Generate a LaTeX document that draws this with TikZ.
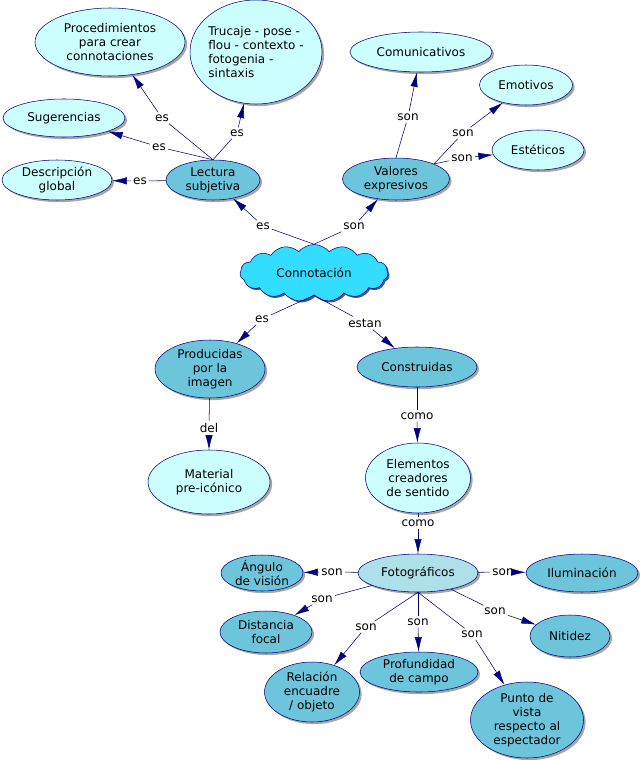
\documentclass[tikz,border=0pt]{standalone}
\usepackage{fontspec}
\setmainfont{DejaVu Sans}
\usepackage{tikz}
\usetikzlibrary{shapes.geometric, shapes.symbols, shadows, arrows.meta}
\definecolor{cmlight}{HTML}{CCFFFF}
\definecolor{cmdark}{HTML}{6DC5DB}
\definecolor{cmmid}{HTML}{AEE0EA}
\definecolor{cmcloud}{HTML}{33DDFF}
\definecolor{cmline}{HTML}{000080}
\tikzstyle{concept} = [ellipse, draw=cmline, inner sep=0pt, align=center, drop shadow={shadow xshift=1.6pt, shadow yshift=-1.6pt, fill=gray!70, opacity=1}]
\tikzstyle{light} = [concept, fill=cmlight]
\tikzstyle{dark} = [concept, fill=cmdark]
\tikzstyle{linkword} = [inner sep=1.5pt]
\tikzstyle{lnk} = [draw=cmline!80!black]
\tikzstyle{arr} = [draw=cmline!80!black, -{Latex[length=11pt,width=5.5pt,color=cmline]}]
\tikzset{dim/.style 2 args={minimum width=#1*0.75pt, minimum height=#2*0.75pt}}

\begin{document}
\begin{tikzpicture}[x=0.75pt, y=-0.75pt, font=\fontsize{9}{10.5}\selectfont]
  \useasboundingbox (0,0) rectangle (643,760);
  % concepts
  \node[cloud, cloud puffs=15, cloud puff arc=100, aspect=2.6, draw=cmline, fill=cmcloud, inner sep=0pt, dim={148}{57}, drop shadow={shadow xshift=1.2pt, shadow yshift=-1.2pt, fill=cmline!70, opacity=1}] (n_conn) at (314,273) {Connotación};
  \node[dark, dim={94}{40}] (n_lect) at (213,180) {Lectura\\subjetiva};
  \node[dark, dim={107}{42}] (n_val) at (396,179) {Valores\\expresivos};
  \node[light, dim={150}{68}] (n_proc) at (110,42) {Procedimientos\\para crear\\connotaciones};
  \node[light, dim={132}{104}, align=left, inner xsep=-5pt] (n_truc) at (256,52) {Trucaje - pose -\\flou - contexto -\\fotogenia -\\sintaxis};
  \node[light, dim={122}{38}] (n_sug) at (64,118) {Sugerencias};
  \node[light, dim={110}{40}] (n_desc) at (57,180) {Descripción\\global};
  \node[light, dim={142}{40}] (n_com) at (421,52) {Comunicativos};
  \node[light, dim={93}{40}] (n_emo) at (526,85) {Emotivos};
  \node[light, dim={92}{40}] (n_est) at (538,150) {Estéticos};
  \node[dark, dim={110}{58}] (n_prod) at (210,369) {Producidas\\por la\\imagen};
  \node[dark, dim={120}{40}] (n_cons) at (417,367) {Construidas};
  \node[light, dim={122}{64}] (n_mat) at (209,482) {Material\\pre-icónico};
  \node[light, dim={105}{70}] (n_elem) at (418,478) {Elementos\\creadores\\de sentido};
  \node[concept, fill=cmmid, dim={120}{38}] (n_foto) at (418,573) {Fotográficos};
  \node[dark, dim={82}{36}] (n_ang) at (262,573) {Ángulo\\de visión};
  \node[dark, dim={112}{38}] (n_ilu) at (582,573) {Iluminación};
  \node[dark, dim={92}{42}] (n_dist) at (266,632) {Distancia\\focal};
  \node[dark, dim={80}{42}] (n_nit) at (570,636) {Nitidez};
  \node[dark, dim={95}{60}] (n_rel) at (312,692) {Relación\\encuadre\\/ objeto};
  \node[dark, dim={118}{40}] (n_prof) at (419,672) {Profundidad\\de campo};
  \node[dark, dim={113}{76}] (n_pto) at (527,720) {Punto de\\vista\\respecto al\\espectador};
  % linking words
  \node[linkword] (l_es1) at (263,226) {es};
  \node[linkword] (l_son1) at (354,226) {son};
  \node[linkword] (l_es2) at (140,181) {es};
  \node[linkword] (l_es3) at (159,147) {es};
  \node[linkword] (l_es4) at (162,118) {es};
  \node[linkword] (l_es5) at (237,133) {es};
  \node[linkword] (l_son2) at (408,117) {son};
  \node[linkword] (l_son3) at (463,133) {son};
  \node[linkword] (l_son4) at (462,158) {son};
  \node[linkword] (l_es6) at (262,319) {es};
  \node[linkword] (l_estan) at (365,323) {estan};
  \node[linkword] (l_del) at (209,428) {del};
  \node[linkword] (l_como1) at (417,416) {como};
  \node[linkword] (l_como2) at (418,523) {como};
  \node[linkword] (l_son5) at (332,572) {son};
  \node[linkword] (l_son6) at (503,572) {son};
  \node[linkword] (l_son7) at (322,599) {son};
  \node[linkword] (l_son8) at (366,627) {son};
  \node[linkword] (l_son9) at (418,622) {son};
  \node[linkword] (l_son10) at (472,634) {son};
  \node[linkword] (l_son11) at (495,611) {son};
  % links
  \path[lnk]
    (n_conn.north) edge (l_es1)
    (n_conn.north) edge (l_son1)
    (n_lect) edge (l_es2)
    (n_lect.north) edge (l_es3)
    (n_lect.north) edge (l_es4)
    (n_lect.north) edge (l_es5)
    (n_val.north) edge (l_son2)
    (n_val.north east) edge (l_son3)
    (n_val.north east) edge (l_son4)
    (n_conn.south) edge (l_es6)
    (n_conn.south) edge (l_estan)
    (n_prod) edge (l_del)
    (n_cons) edge (l_como1)
    (n_elem) edge (l_como2)
    (n_foto) edge (l_son5)
    (n_foto) edge (l_son6)
    (n_foto) edge (l_son7)
    (n_foto.south) edge (l_son8)
    (n_foto.south) edge (l_son9)
    (n_foto.south) edge (l_son10)
    (n_foto) edge (l_son11);
  \path[arr]
    (l_es1) edge (n_lect)
    (l_son1) edge (n_val)
    (l_es2) edge (n_desc)
    (l_es3) edge (n_sug)
    (l_es4) edge (n_proc)
    (l_es5) edge (n_truc)
    (l_son2) edge (n_com)
    (l_son3) edge (n_emo)
    (l_son4) edge (n_est)
    (l_es6) edge (n_prod)
    (l_estan) edge (n_cons)
    (l_del) edge (n_mat)
    (l_como1) edge (n_elem)
    (l_como2) edge (n_foto)
    (l_son5) edge (n_ang)
    (l_son6) edge (n_ilu)
    (l_son7) edge (n_dist)
    (l_son8) edge (n_rel)
    (l_son9) edge (n_prof)
    (l_son10) edge (n_pto)
    (l_son11) edge (n_nit);
\end{tikzpicture}
\end{document}
